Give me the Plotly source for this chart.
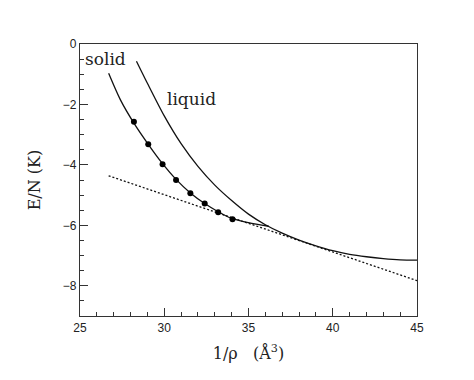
import plotly.graph_objects as go

# --- data ---
solid_x = [26.7, 27.4, 28.2, 29.05, 29.9, 30.7, 31.55, 32.4, 33.2, 34.0, 35.0, 36.2]
solid_y = [-0.97, -1.85, -2.62, -3.32, -3.96, -4.48, -4.93, -5.28, -5.55, -5.77, -5.91, -6.03]

liquid_x = [28.35, 29.0, 30.0, 31.0, 32.0, 33.0, 34.0, 35.0, 36.0, 37.0, 38.0, 39.0,
            40.0, 41.0, 42.0, 43.0, 44.0, 45.0]
liquid_y = [-0.57, -1.30, -2.38, -3.30, -4.05, -4.67, -5.18, -5.63, -5.98, -6.26, -6.49, -6.68,
            -6.84, -6.96, -7.04, -7.10, -7.14, -7.15]

dots_x = [28.2, 29.05, 29.9, 30.7, 31.55, 32.4, 33.2, 34.05]
dots_y = [-2.57, -3.32, -3.98, -4.50, -4.94, -5.28, -5.57, -5.80]

tangent_x = [26.7, 45.0]
tangent_y = [-4.36, -7.83]

fig = go.Figure()
fig.add_trace(go.Scatter(x=tangent_x, y=tangent_y, mode="lines",
                         line=dict(color="#111", width=1.3, dash="2px,2px"), showlegend=False))
fig.add_trace(go.Scatter(x=solid_x, y=solid_y, mode="lines",
                         line=dict(color="#111", width=1.3, shape="spline", smoothing=0.8),
                         showlegend=False))
fig.add_trace(go.Scatter(x=liquid_x, y=liquid_y, mode="lines",
                         line=dict(color="#111", width=1.3, shape="spline", smoothing=0.8),
                         showlegend=False))
fig.add_trace(go.Scatter(x=dots_x, y=dots_y, mode="markers",
                         marker=dict(color="#000", size=6), showlegend=False))

serif = "DejaVu Serif"
fig.add_annotation(x=26.5, y=-0.5, text="solid", showarrow=False, xanchor="center",
                   font=dict(family=serif, size=17, color="#222"))
fig.add_annotation(x=31.62, y=-1.82, text="liquid", showarrow=False, xanchor="center",
                   font=dict(family=serif, size=17, color="#222"))

axis_common = dict(showgrid=False, zeroline=False, showline=True, mirror=True,
                   linecolor="#333", linewidth=1.2, ticks="inside", ticklen=8,
                   tickwidth=1, tickcolor="#333", tickmode="linear",
                   tickfont=dict(family="Liberation Sans", size=12, color="#222"))

fig.update_xaxes(range=[25, 45], tick0=25, dtick=5,
                 minor=dict(ticks="inside", ticklen=4, dtick=1, tickcolor="#333", tickwidth=1),
                 title=dict(text="1/ρ   (Å<sup>3</sup>)", font=dict(family=serif, size=16, color="#222"),
                            standoff=14),
                 **axis_common)
fig.update_yaxes(range=[-9, 0], tick0=0, dtick=2,
                 minor=dict(ticks="inside", ticklen=4, dtick=0.5, tickcolor="#333", tickwidth=1),
                 title=dict(text="E/N (K)", font=dict(family=serif, size=16, color="#222"),
                            standoff=18),
                 **axis_common)

fig.update_layout(width=466, height=372, margin=dict(l=72, r=57, t=36, b=64),
                  plot_bgcolor="white", paper_bgcolor="white")

fig.write_html("out.html")
